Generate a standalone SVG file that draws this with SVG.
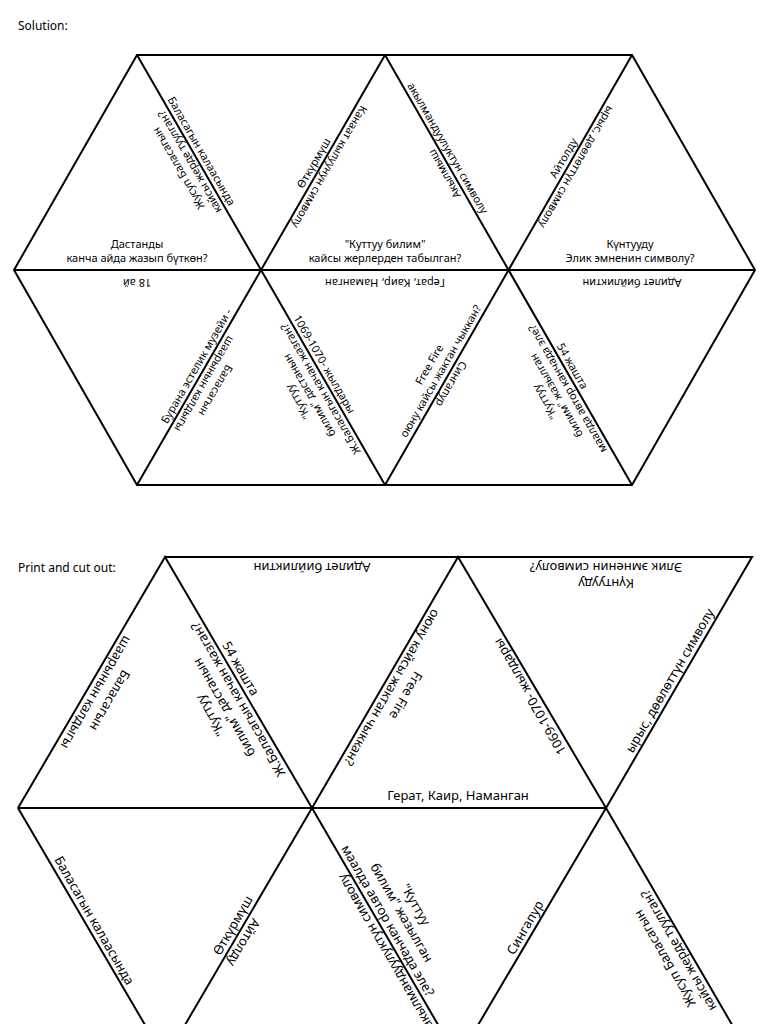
<svg xmlns="http://www.w3.org/2000/svg" width="768" height="1024" viewBox="0 0 768 1024">
<style>
.e{fill:none;stroke:#000;stroke-width:2;stroke-linejoin:miter}
text{font-family:"Noto Sans","DejaVu Sans",sans-serif;fill:#000;text-anchor:middle}
.s{font-size:11px}
.p{font-size:13px}
.h{font-family:"Noto Sans",sans-serif;font-size:12px;text-anchor:start}
</style>
<rect width="768" height="1024" fill="#fff"/>
<text class="h" x="18" y="30">Solution:</text>
<text class="h" x="18" y="572">Print and cut out:</text>
<g id="connectors">
<path class="e" d="M137,55H632L755,270L632,485H137L14,270Z M14,270H755 M137,55L385,485 M385,55L632,485 M385,55L137,485 M632,55L385,485"/>
<path class="e" d="M165,557H752L606,808 M18,808H606 M18,808L165,557L312,808L458,557L606,808L752,1059 M18,808L165,1059L312,808L458,1059L606,808"/>
</g>
<g id="solution" class="s">
<text transform="translate(137,248)"><tspan x="0" dy="0">Дастанды</tspan><tspan x="0" dy="14">канча айда жазып бүткөн?</tspan></text>
<text transform="translate(193,160) rotate(-120)"><tspan x="0" dy="-13">Жусуп Баласагын</tspan><tspan x="0" dy="13">кайсы жерде туулган?</tspan></text>
<text transform="translate(198.2,153) rotate(60)">Баласагын калаасында</text>
<text transform="translate(317,165) rotate(-60)">Өткүрмүш</text>
<text transform="translate(326.2,165) rotate(120)">Канаат кылуунун символу</text>
<text transform="translate(447.8,172) rotate(-120)">Акылмыш</text>
<text transform="translate(444.4,150) rotate(60)">акылмандуулуктун символу</text>
<text transform="translate(385,248)"><tspan x="0" dy="0">"Куттуу билим"</tspan><tspan x="0" dy="14">кайсы жерлерден табылган?</tspan></text>
<text transform="translate(566.8,160) rotate(-60)">Айтолду</text>
<text transform="translate(573.2,165) rotate(120)">ырыс, дөөлөттүн символу</text>
<text transform="translate(630,248)"><tspan x="0" dy="0">Күнтууду</tspan><tspan x="0" dy="14">Элик эмненин символу?</tspan></text>
<text transform="translate(137,279) rotate(180)">18 ай</text>
<text transform="translate(199.8,368) rotate(-60)">Бурана эстелик музейи -</text>
<text transform="translate(201.1,382) rotate(120)"><tspan x="0" dy="-13">Баласагын</tspan><tspan x="0" dy="13">шаарынын калдыгы</tspan></text>
<text transform="translate(323.8,387) rotate(-120)"><tspan x="0" dy="-26">"Куттуу</tspan><tspan x="0" dy="13">билим" дастанын</tspan><tspan x="0" dy="13">Ж.Баласагын качан жазган?</tspan></text>
<text transform="translate(321,366) rotate(60)">1069-1070- жылдары</text>
<text transform="translate(385,279) rotate(180)">Герат, Каир, Наманган</text>
<text transform="translate(443.9,373) rotate(-60)"><tspan x="0" dy="-13">Free Fire</tspan><tspan x="0" dy="13">оюну кайсы жактан чыккан?</tspan></text>
<text transform="translate(448.1,382) rotate(120)">Сингапур</text>
<text transform="translate(570.8,387) rotate(-120)"><tspan x="0" dy="-26">"Куттуу</tspan><tspan x="0" dy="13">билим" жазылган</tspan><tspan x="0" dy="13">маалда автор канчада эле?</tspan></text>
<text transform="translate(569.2,368) rotate(60)">54 жашта</text>
<text transform="translate(632,279) rotate(180)">Адилет бийликтин</text>
</g>
<g id="print" class="p">
<text transform="translate(92.2,690.2) rotate(120)"><tspan x="0" dy="-16">Баласагын</tspan><tspan x="0" dy="16">шаарынын калдыгы</tspan></text>
<text transform="translate(241.9,697.2) rotate(-120)"><tspan x="0" dy="-32">"Куттуу</tspan><tspan x="0" dy="16">билим" дастанын</tspan><tspan x="0" dy="16">Ж.Баласагын качан жазган?</tspan></text>
<text transform="translate(236.8,670.8) rotate(60)">54 жашта</text>
<text transform="translate(312,563) rotate(180)">Адилет бийликтин</text>
<text transform="translate(388.1,685.2) rotate(120)"><tspan x="0" dy="-16">Free Fire</tspan><tspan x="0" dy="16">оюну кайсы жактан чыккан?</tspan></text>
<text transform="translate(533.7,694.2) rotate(-120)">1069-1070- жылдары</text>
<text transform="translate(458,800)">Герат, Каир, Наманган</text>
<text transform="translate(606,563) rotate(180)"><tspan x="0" dy="-16">Күнтууду</tspan><tspan x="0" dy="16">Элик эмненин символу?</tspan></text>
<text transform="translate(673.6,682.8) rotate(-60)">ырыс, дөөлөттүн символу</text>
<text transform="translate(90.4,922.8) rotate(60)">Баласагын калаасында</text>
<text transform="translate(236.6,927.8) rotate(-60)">Өткүрмүш</text>
<text transform="translate(239.8,940.2) rotate(120)">Айтолду</text>
<text transform="translate(389,949.2) rotate(-120)">акылмандуулуктун символу</text>
<text transform="translate(384,922.8) rotate(60)"><tspan x="0" dy="-32">"Куттуу</tspan><tspan x="0" dy="16">билим" жазылган</tspan><tspan x="0" dy="16">маалда автор канчада эле?</tspan></text>
<text transform="translate(529,929.8) rotate(-60)">Сингапур</text>
<text transform="translate(682.4,948.2) rotate(-120)"><tspan x="0" dy="-16">Жусуп Баласагын</tspan><tspan x="0" dy="16">кайсы жерде туулган?</tspan></text>
</g>
</svg>
